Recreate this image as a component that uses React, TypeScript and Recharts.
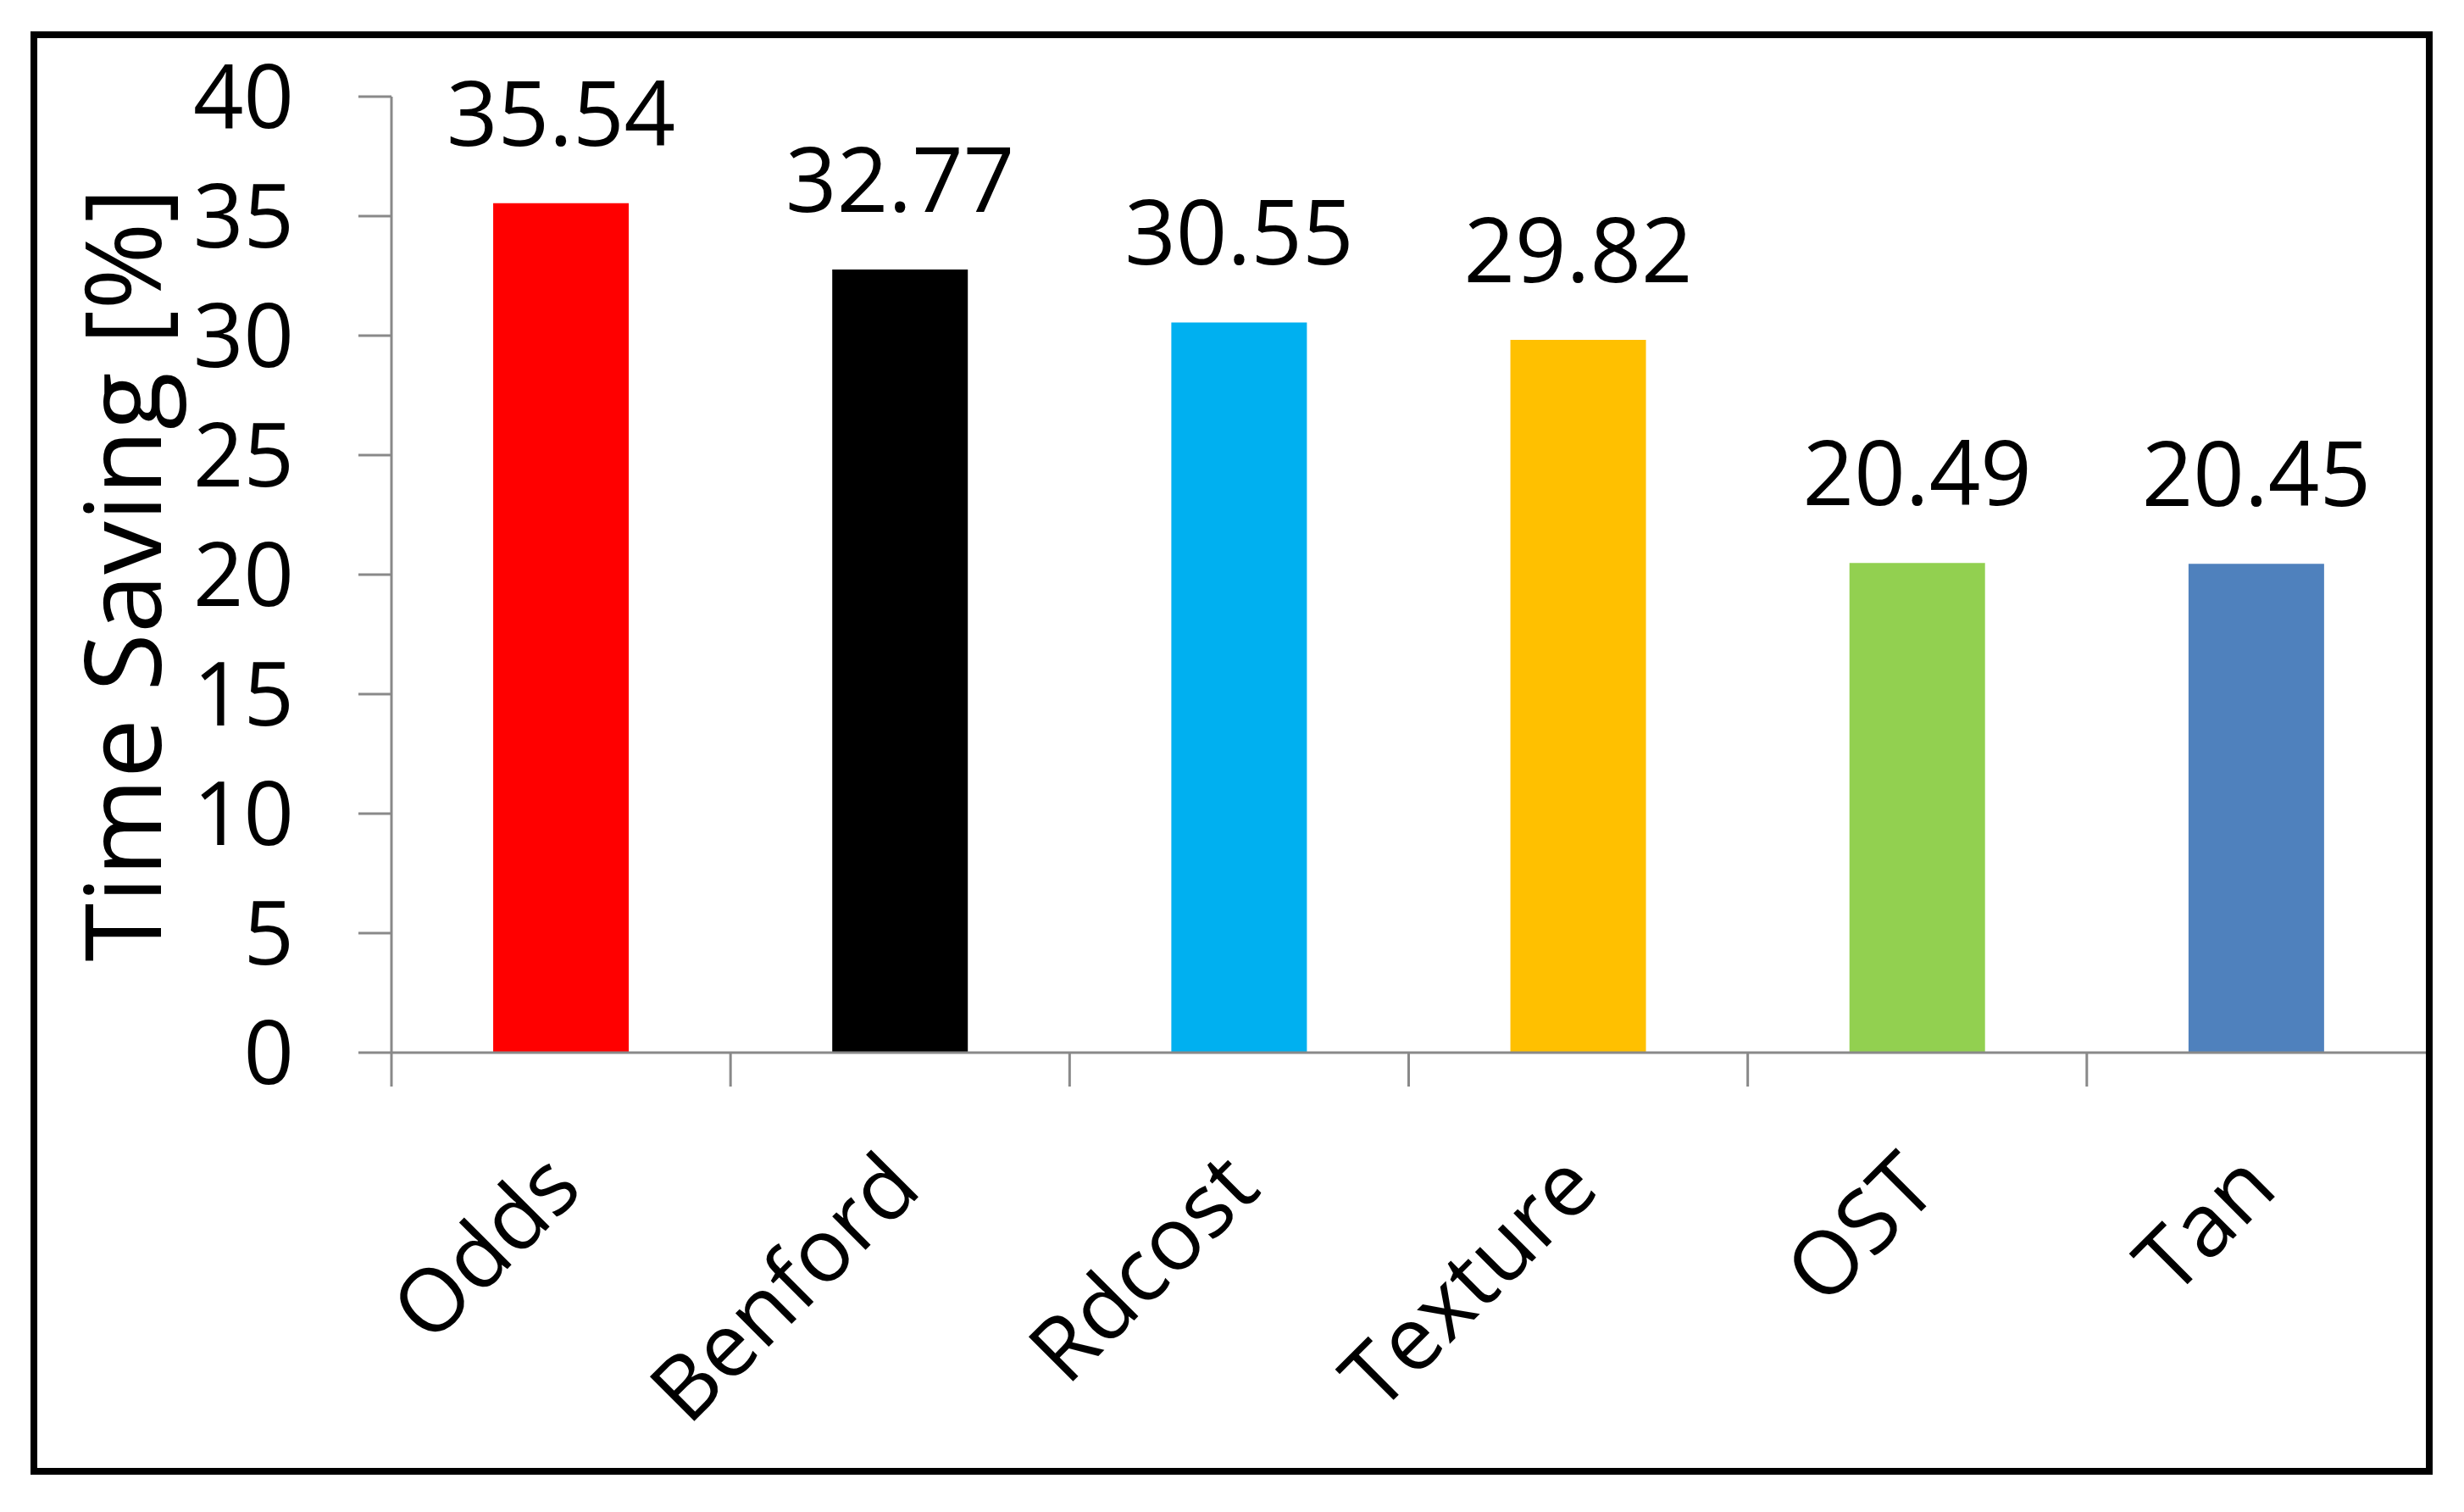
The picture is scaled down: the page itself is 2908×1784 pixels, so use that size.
import React from 'react';
import { BarChart, Bar, XAxis, YAxis, Cell, LabelList, Label } from 'recharts';

const categories = ['Odds', 'Benford', 'Rdcost', 'Texture', 'OST', 'Tan'];
const timeSaving = [35.54, 32.77, 30.55, 29.82, 20.49, 20.45];
const barColors = ['#FF0000', '#000000', '#00B0F0', '#FFC000', '#92D050', '#4F81BD'];
const yTicks = [0, 5, 10, 15, 20, 25, 30, 35, 40];
const yTitle = 'Time Saving [%]';

const data = categories.map((name, i) => ({ name, value: timeSaving[i] }));

const FONT = "'Open Sans', 'DejaVu Sans', sans-serif";
const WEIGHT = 400;
const AXIS_GRAY = '#898989';

const XTick = (props: any) => {
  const { y, payload, width, visibleTicksCount } = props;
  const band = width && visibleTicksCount ? width / visibleTicksCount : 400.2;
  const cx = payload.coordinate;
  const left = cx - band / 2;
  const ax = cx + 28;
  const ay = y + 164;
  return (
    <g>
      <line x1={left} y1={y} x2={left} y2={y + 40} stroke={AXIS_GRAY} strokeWidth={3} />
      <text
        x={ax}
        y={ay}
        textAnchor="end"
        fontSize={104}
        fontFamily={FONT}
        fontWeight={WEIGHT}
        fill="#000"
        transform={`rotate(-45, ${ax}, ${ay})`}
      >
        {payload.value}
      </text>
    </g>
  );
};

const ValueLabel = (props: any) => {
  const { x, y, width, value } = props;
  return (
    <text
      x={x + width / 2}
      y={y - 68}
      textAnchor="middle"
      fontSize={106}
      fontFamily={FONT}
      fontWeight={WEIGHT}
      fill="#000"
    >
      {Number(value).toFixed(2)}
    </text>
  );
};

const YTitle = (props: any) => {
  const vb = props.viewBox || {};
  const cx = vb.x + 190;
  const cy = vb.y + vb.height / 2;
  return (
    <text
      x={cx}
      y={cy}
      textAnchor="middle"
      fontSize={125}
      fontFamily={FONT}
      fontWeight={WEIGHT}
      fill="#000"
      transform={`rotate(-90, ${cx}, ${cy})`}
    >
      {yTitle}
    </text>
  );
};

export default function App() {
  return (
    <div style={{ position: 'absolute', left: 0, top: 0, width: 2908, height: 1784, background: '#fff' }}>
      <div
        style={{
          position: 'absolute',
          left: 36,
          top: 37,
          width: 2835,
          height: 1703,
          border: '8px solid #000',
          boxSizing: 'border-box',
        }}
      />
      <div style={{ position: 'absolute', left: 0, top: 0 }}>
        <BarChart
          width={2908}
          height={1784}
          data={data}
          margin={{ top: 114, right: 45, bottom: 242, left: 0 }}
          barCategoryGap="30%"
        >
          <XAxis
            dataKey="name"
            type="category"
            height={300}
            axisLine={{ stroke: AXIS_GRAY, strokeWidth: 3 }}
            tickLine={false}
            tickSize={0}
            tickMargin={0}
            tick={<XTick />}
            interval={0}
          />
          <YAxis
            type="number"
            domain={[0, 40]}
            ticks={yTicks}
            width={462}
            axisLine={{ stroke: AXIS_GRAY, strokeWidth: 3 }}
            tickLine={{ stroke: AXIS_GRAY, strokeWidth: 3 }}
            tickSize={39}
            tickMargin={76}
            tick={{ fontSize: 104, fill: '#000', fontFamily: FONT, fontWeight: WEIGHT }}
            interval={0}
          >
            <Label content={<YTitle />} position="insideLeft" />
          </YAxis>
          <Bar dataKey="value" isAnimationActive={false}>
            {data.map((d, i) => (
              <Cell key={d.name} fill={barColors[i]} />
            ))}
            <LabelList dataKey="value" content={<ValueLabel />} />
          </Bar>
        </BarChart>
      </div>
    </div>
  );
}
